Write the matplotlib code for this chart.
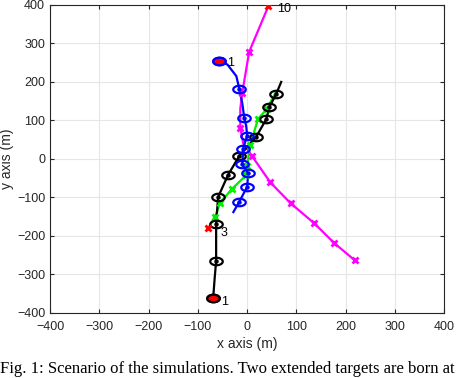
import numpy as np
import matplotlib
matplotlib.use("Agg")
import matplotlib.pyplot as plt
from matplotlib.path import Path

# target 1 (blue, born at top) - extent ellipse centres
blue_x = [-57, -40, -22, -16, -10, -6, -2, 0, -4, -8, -10, 2, 0, -16, -28]
blue_y = [255, 245, 215, 182, 145, 107, 85, 60, 45, 27, -14, -37, -72, -111, -138]
blue_mk = [0, 3, 5, 7, 9, 10, 11, 12, 13]

# target 2 (black, born at bottom)
black_x = [-69, -66, -63, -63, -59, -39, -16, 18, 39, 45, 59, 69]
black_y = [-361, -310, -265, -169, -99, -42, 8, 57, 104, 135, 169, 200]
black_mk = [0, 2, 3, 4, 5, 6, 7, 8, 9, 10]

# magenta track with crosses
mag_x = [218, 177, 136, 88, 47, 10, -8, -14, -14, -10, 4, 43]
mag_y = [-263, -219, -167, -115, -61, 7, 40, 81, 130, 172, 278, 397]
mag_mk = [0, 1, 2, 3, 4, 5, 7, 9, 10]

# green track with crosses
green_x = [-79, -65, -55, -31, -2, 0, 6, 22, 40, 57]
green_y = [-179, -150, -114, -78, -42, -18, 36, 104, 130, 171]
green_mk = [1, 2, 3, 4, 5, 6, 7, 8]

ticks = [-400, -300, -200, -100, 0, 100, 200, 300, 400]

plt.rcParams["font.family"] = ["Liberation Sans", "DejaVu Sans"]

fig = plt.figure(figsize=(4.74, 3.78), dpi=100)
ax = fig.add_axes([0.1055, 0.172, 0.832, 0.815])

t = np.linspace(0, 2 * np.pi, 40)
ell = Path(np.column_stack([np.cos(t), 0.6 * np.sin(t)]), closed=True)

def track(x, y, mk, col, marker):
    ax.plot(x, y, color=col, lw=1.6, zorder=2)
    mx = [x[i] for i in mk]
    my = [y[i] for i in mk]
    if marker == "ell":
        ax.plot(mx, my, ls="none", marker=ell, ms=9, mfc="none", mec=col, mew=1.6, zorder=3)
        ax.plot(mx, my, ls="none", marker="o", ms=2.2, color=col, zorder=3)
    else:
        ax.plot(mx, my, ls="none", marker="x", ms=5, mec=col, mew=2, zorder=3)

track(mag_x, mag_y, mag_mk, "#ff00ff", "x")
track(green_x, green_y, green_mk, "#00ee00", "x")
track(black_x, black_y, black_mk, "black", "ell")
track(blue_x, blue_y, blue_mk, "#0000ff", "ell")

# birth / end markers
ax.plot(blue_x[0], blue_y[0], ls="none", marker=ell, ms=9, mfc="red", mec="blue", mew=1.6, zorder=4)
ax.plot(black_x[0], black_y[0], ls="none", marker=ell, ms=9, mfc="red", mec="black", mew=1.6, zorder=4)
ax.plot(mag_x[-1], mag_y[-1], ls="none", marker="x", ms=5, mec="red", mew=2, zorder=4)
ax.plot(green_x[0], green_y[0], ls="none", marker="x", ms=5, mec="red", mew=2, zorder=4)

ax.annotate("1", (blue_x[0], blue_y[0]), xytext=(6, -4), textcoords="offset points", fontsize=9)
ax.annotate("1", (black_x[0], black_y[0]), xytext=(6, -5), textcoords="offset points", fontsize=9)
ax.annotate("10", (mag_x[-1], mag_y[-1]), xytext=(6, -4), textcoords="offset points", fontsize=9)
ax.annotate("3", (green_x[0], green_y[0]), xytext=(9, -6), textcoords="offset points", fontsize=9)

ax.set_xlim(-400, 400)
ax.set_ylim(-400, 400)
ax.set_xticks(ticks)
ax.set_yticks(ticks)
ax.grid(True, color="#e6e6e6", lw=0.8)
ax.set_axisbelow(True)
ax.tick_params(direction="in", top=True, right=True, labelsize=9, colors="#262626", length=3)
ax.tick_params(axis="x", pad=6)
for s in ax.spines.values():
    s.set_color("#262626")
    s.set_linewidth(0.8)
ax.set_xlabel("x axis (m)", fontsize=10, color="#262626", labelpad=3)
ax.set_ylabel("y axis (m)", fontsize=10, color="#262626", labelpad=2)

fig.text(0.0, 0.025, "Fig. 1: Scenario of the simulations. Two extended targets are born at",
         family="Liberation Serif", fontsize=12, va="center", ha="left")

fig.savefig("out.png", dpi=100)
